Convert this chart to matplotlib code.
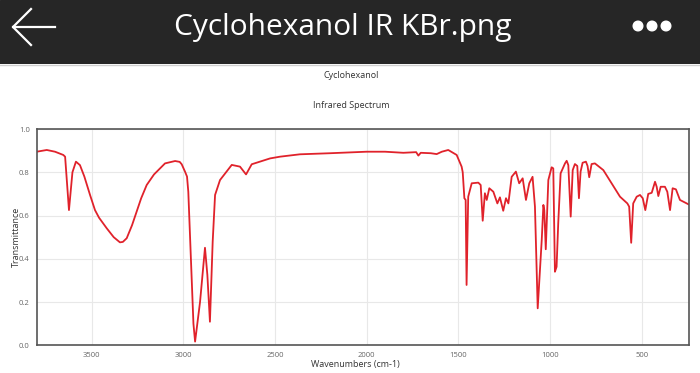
import matplotlib
matplotlib.use("Agg")
import matplotlib.pyplot as plt
from matplotlib.lines import Line2D
from matplotlib.patches import Circle

plt.rcParams['font.family'] = ['Open Sans', 'DejaVu Sans']

# spectrum: wavenumber (cm-1) vs transmittance
wavenumber = [3800, 3745, 3700, 3655, 3645, 3624, 3605, 3586, 3564, 3540, 3509, 3482,
              3460, 3418, 3380, 3346, 3330, 3309, 3280, 3255, 3230, 3200, 3160, 3127,
              3100, 3045, 3020, 3009, 2991, 2980, 2973, 2955, 2945, 2936, 2909, 2882,
              2869, 2855, 2840, 2827, 2800, 2736, 2691, 2658, 2627, 2527, 2473, 2364,
              2200, 2000, 1900, 1800, 1730, 1718, 1705, 1650, 1618, 1590, 1555, 1509,
              1482, 1476, 1467, 1460, 1455, 1446, 1427, 1391, 1378, 1367, 1355, 1345,
              1331, 1309, 1287, 1273, 1255, 1240, 1227, 1209, 1186, 1168, 1149, 1131,
              1113, 1095, 1082, 1067, 1045, 1036, 1031, 1023, 1009, 991, 982, 973, 964,
              955, 942, 918, 909, 900, 887, 876, 864, 851, 842, 833, 822, 804, 795, 786,
              773, 755, 709, 664, 618, 578, 568, 557, 546, 527, 509, 494, 480, 464, 445,
              427, 418, 409, 396, 373, 360, 345, 331, 313, 291, 245]
transmittance = [0.895, 0.903, 0.895, 0.88, 0.872, 0.625, 0.80, 0.849, 0.833, 0.78, 0.695, 0.625,
                 0.59, 0.541, 0.50, 0.476, 0.478, 0.495, 0.555, 0.618, 0.68, 0.741, 0.79, 0.818,
                 0.841, 0.852, 0.848, 0.837, 0.803, 0.78, 0.71, 0.325, 0.10, 0.017, 0.2, 0.451,
                 0.325, 0.109, 0.479, 0.695, 0.764, 0.834, 0.826, 0.79, 0.837, 0.864, 0.872, 0.883,
                 0.888, 0.895, 0.895, 0.89, 0.893, 0.877, 0.89, 0.888, 0.884, 0.895, 0.903, 0.88,
                 0.826, 0.80, 0.68, 0.672, 0.279, 0.687, 0.749, 0.752, 0.741, 0.576, 0.703, 0.672,
                 0.726, 0.71, 0.656, 0.684, 0.622, 0.68, 0.656, 0.779, 0.803, 0.749, 0.772, 0.672,
                 0.749, 0.779, 0.641, 0.171, 0.487, 0.649, 0.625, 0.444, 0.764, 0.823, 0.818, 0.34, 0.363,
                 0.564, 0.795, 0.841, 0.853, 0.833, 0.595, 0.81, 0.838, 0.829, 0.68, 0.803, 0.844, 0.849, 0.829, 0.777,
                 0.838, 0.841, 0.81, 0.749, 0.687, 0.656, 0.641, 0.474, 0.656, 0.687, 0.695, 0.68, 0.625, 0.70, 0.705,
                 0.756, 0.733, 0.69, 0.733, 0.733, 0.71, 0.625, 0.726, 0.721, 0.672, 0.652]

x_ticks = [3500, 3000, 2500, 2000, 1500, 1000, 500]
y_ticks = [0.0, 0.2, 0.4, 0.6, 0.8, 1.0]

W, H = 700, 373
fig = plt.figure(figsize=(W / 100, H / 100), dpi=100)
fig.patch.set_facecolor('white')

# phone viewer header bar
bar = fig.add_axes([0, 1 - 64 / H, 1, 64 / H])
bar.set_xlim(0, W)
bar.set_ylim(64, 0)
bar.axis('off')
bar.add_patch(plt.Rectangle((0, 0), W, 64, color='#262626'))
bar.text(342.5, 35, 'Cyclohexanol IR KBr.png', color='white', fontsize=21.5,
         ha='center', va='baseline')
bar.add_line(Line2D([13, 55], [27, 27], color='white', lw=1.6))
bar.add_line(Line2D([31, 13, 31], [9, 27, 45], color='white', lw=1.6))
for cx in [638, 652, 666]:
    bar.add_patch(Circle((cx, 26), 4.8, color='white'))
fig.add_artist(Line2D([0, 1], [1 - 65 / H, 1 - 65 / H], color='#cfcfcf', lw=1))

fig.text(351 / W, 1 - 76 / H, 'Cyclohexanol', fontsize=6.5, color='#333333',
         ha='center', va='center')
fig.text(351 / W, 1 - 105 / H, 'Infrared Spectrum', fontsize=6.5, color='#333333',
         ha='center', va='center')

ax = fig.add_axes([36.7 / W, 1 - 345.3 / H, (689.3 - 36.7) / W, (345.3 - 129) / H])
ax.plot(wavenumber, transmittance, color='#e0222b', lw=1.3)
ax.set_xlim(3800, 240)
ax.set_ylim(0, 1.0)
ax.set_xticks(x_ticks)
ax.set_yticks(y_ticks)
ax.set_yticklabels([f'{v:.1f}' for v in y_ticks])
ax.grid(True, color='#e8e8e8', lw=0.8)
ax.set_axisbelow(True)
ax.tick_params(length=0, labelsize=5.5, labelcolor='#666666', pad=5)
for s in ax.spines.values():
    s.set_color('#555555')
    s.set_linewidth(1.2)
ax.set_xlabel('Wavenumbers (cm-1)', fontsize=6.5, color='#333333', va='center')
ax.xaxis.set_label_coords((355 - 36.7) / 652.6, (345.3 - 365) / 216.3)
ax.set_ylabel('Transmittance', fontsize=6.5, color='#333333', va='center')
ax.yaxis.set_label_coords((16 - 36.7) / 652.6, 0.5)

fig.savefig('out.png', dpi=100)
